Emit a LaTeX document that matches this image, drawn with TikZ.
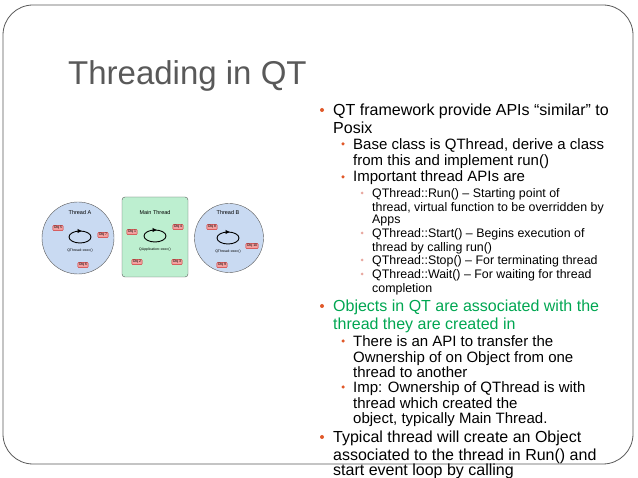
\documentclass[tikz,border=0pt]{standalone}
\usepackage{fontspec}
\setmainfont{Liberation Sans}
\usetikzlibrary{arrows.meta}
\definecolor{ttl}{HTML}{595959}
\definecolor{bul}{HTML}{E0592A}
\definecolor{bul3}{HTML}{E8A8A0}
\definecolor{grn}{HTML}{00A651}
\definecolor{thr}{HTML}{C9DAF2}
\definecolor{mainc}{HTML}{BDEFD0}
\definecolor{objf}{HTML}{F4A0A0}
\definecolor{objd}{HTML}{D03030}
\begin{document}
\begin{tikzpicture}[x=1pt,y=-1pt,
  lone/.style={anchor=north west,inner sep=0pt,font=\fontsize{16}{15.5}\selectfont,align=left},
  ltwo/.style={anchor=north west,inner sep=0pt,font=\fontsize{15}{15}\selectfont,align=left},
  lthree/.style={anchor=north west,inner sep=0pt,font=\fontsize{12.4}{12}\selectfont,align=left},
  dotone/.style={circle,fill=bul,inner sep=0pt,minimum size=4pt},
  dotthree/.style={circle,fill=bul3,inner sep=0pt,minimum size=3pt},
  obj/.style={draw=objd,fill=objf,rounded corners=1pt,inner sep=1pt,font=\fontsize{3.5}{4}\selectfont},
  thcap/.style={inner sep=0pt,font=\fontsize{5.5}{6}\selectfont},
  small/.style={inner sep=0pt,font=\fontsize{3.5}{4}\selectfont}]
\useasboundingbox (0,0) rectangle (638,478);
\draw[draw=gray!70!black,line width=0.8pt,rounded corners=30pt] (3,5) rectangle (633,464);
\node[anchor=base west,inner sep=0pt,text=ttl,font=\fontsize{33}{33}\selectfont] (title) at (68,85) {Threading in QT};
% bullets (north = baseline - 0.7*baselineskip)
\node[dotone] (d1) at (322,110) {};
\node[lone] (t1) at (333,104.15) {\strut QT framework provide APIs “similar” to\\Posix};
\node[dotone,minimum size=3.5pt] (d2) at (343,144) {};
\node[ltwo] (t2) at (353,138.5) {\strut Base class is QThread, derive a class\\from this and implement run()};
\node[dotone,minimum size=3.5pt] (d3) at (343,177) {};
\node[ltwo] (t3) at (353,170.5) {\strut Important thread APIs are};
\node[dotthree] (d4) at (362,193) {};
\node[lthree] (t4) at (372,188.6) {\strut QThread::Run() – Starting point of\\thread, virtual function to be overridden by\\Apps};
\node[dotthree] (d5) at (362,233) {};
\node[lthree] (t5) at (372,228.6) {\strut QThread::Start() – Begins execution of\\thread by calling run()};
\node[dotthree] (d6) at (362,260) {};
\node[lthree] (t6) at (372,255.6) {\strut QThread::Stop() – For terminating thread};
\node[dotthree] (d7) at (362,274) {};
\node[lthree] (t7) at (372,269.6) {\strut QThread::Wait() – For waiting for thread\\completion};
\node[dotone] (d8) at (322,306) {};
\node[lone,text=grn] (t8) at (333,300.15) {\strut Objects in QT are associated with the\\thread they are created in};
\node[dotone,minimum size=3.5pt] (d9) at (343,341) {};
\node[ltwo] (t9) at (353,335.5) {\strut There is an API to transfer the\\Ownership of on Object from one\\thread to another};
\node[dotone,minimum size=3.5pt] (d10) at (343,387) {};
\node[ltwo] (t10) at (353,381.5) {\strut Imp: Ownership of QThread is with\\thread which created the\\object, typically Main Thread.};
\node[dotone] (d11) at (322,437) {};
\node[lone] (t11) at (333,431.15) {\strut Typical thread will create an Object\\associated to the thread in Run() and\\start event loop by calling\\QThread::exec()};
% diagram
\node[circle,draw=gray!70!black,fill=thr,minimum size=72pt,inner sep=0pt] (ta) at (78,238) {};
\node[rectangle,rounded corners=3pt,draw=gray!70!black,fill=mainc,minimum width=66pt,minimum height=80pt,inner sep=0pt] (mt) at (155,237) {};
\node[circle,draw=gray!70!black,fill=thr,minimum size=69pt,inner sep=0pt] (tb) at (229,238) {};
\node[thcap] (la) at (80,213) {Thread A};
\node[thcap] (lm) at (155,213) {Main Thread};
\node[thcap] (lb) at (228,213) {Thread B};
\foreach \x/\y in {80/237,155/236,228/238}{
  \draw[line width=0.9pt] (\x,\y) ellipse[x radius=11pt,y radius=6pt];
  \draw[-{Triangle[length=4pt,width=4pt]},line width=0.9pt] (\x-2,\y-6) -- (\x+1.5,\y-6);
}
\node[small] (ea) at (80,251) {QThread::exec()};
\node[small] (em) at (155,250) {QApplication::exec()};
\node[small] (eb) at (228,252) {QThread::exec()};
\node[obj] (o5) at (58,228) {Obj 5};
\node[obj] (o7) at (103,235) {Obj 7};
\node[obj] (o6) at (83,265) {Obj 6};
\node[obj] (o1) at (132,232) {Obj 1};
\node[obj] (o4) at (178,227) {Obj 4};
\node[obj] (o2) at (137,262) {Obj 2};
\node[obj] (o3) at (177,262) {Obj 3};
\node[obj] (o8) at (212,227) {Obj 8};
\node[obj] (o10) at (252,246) {Obj 10};
\node[obj] (o9) at (222,265) {Obj 9};
\end{tikzpicture}
\end{document}
